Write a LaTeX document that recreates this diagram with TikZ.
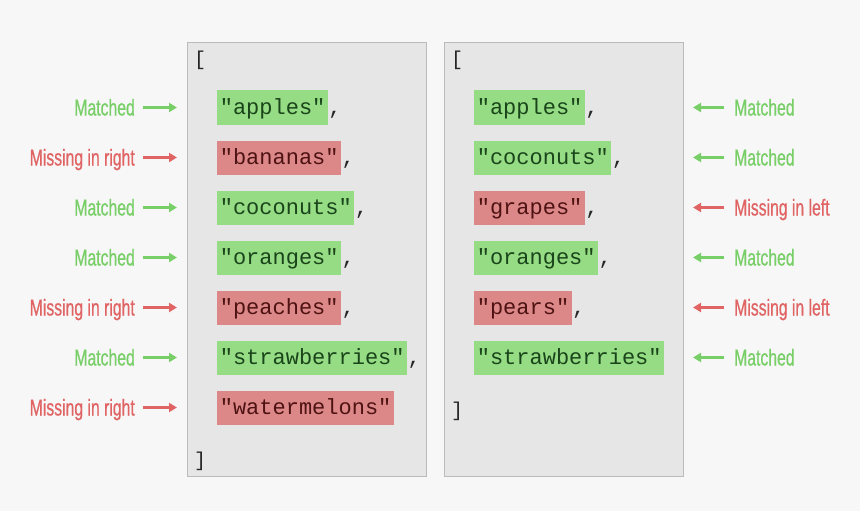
\documentclass[tikz,border=0pt]{standalone}
\usepackage{fontspec}
\setmainfont{Liberation Sans}
\newfontfamily\codefont{Liberation Mono}
\newfontfamily\labfont[FakeStretch=0.685,FakeBold=0.6]{Liberation Sans}
\usetikzlibrary{arrows.meta,calc}
\definecolor{bg}{HTML}{F7F7F7}
\definecolor{boxfill}{HTML}{E6E6E6}
\definecolor{boxline}{HTML}{BBBBBB}
\definecolor{gfill}{HTML}{95DC85}
\definecolor{rfill}{HTML}{DC8888}
\definecolor{gtext}{HTML}{1A441A}
\definecolor{rtext}{HTML}{4E1212}
\definecolor{glab}{HTML}{78CF68}
\definecolor{rlab}{HTML}{E06464}
\tikzset{
  codebox/.style={draw=boxline, fill=boxfill, line width=1pt, anchor=north west, inner sep=0},
  hlbase/.style={anchor=west, inner xsep=2.6pt, inner ysep=0pt, minimum height=34pt,
    font=\codefont\fontsize{22}{22}\selectfont, text height=17pt, text depth=4pt},
  hlg/.style={hlbase, fill=gfill, text=gtext},
  hlr/.style={hlbase, fill=rfill, text=rtext},
  commanode/.style={anchor=west, inner sep=0pt, font=\codefont\fontsize{22}{22}\selectfont,
    text height=17pt, text depth=4pt, text=black!85},
  bracketnode/.style={anchor=base west, inner sep=0pt, font=\codefont\fontsize{20}{20}\selectfont, text=black!85},
  labbase/.style={inner sep=0pt, font=\labfont\fontsize{23}{23}\selectfont},
  labg/.style={labbase, text=glab},
  labr/.style={labbase, text=rlab},
  arrbase/.style={line width=2.3pt, -{Triangle[length=8pt,width=9pt]}},
  arrg/.style={arrbase, draw=glab},
  arrr/.style={arrbase, draw=rlab},
}
\begin{document}
\begin{tikzpicture}[x=1pt,y=-1pt]
\fill[bg] (0,0) rectangle (860,511);
\useasboundingbox (0,0) rectangle (860,511);
\node[codebox, minimum width=239pt, minimum height=434pt] (lbox) at (187,42) {};
\node[codebox, minimum width=239pt, minimum height=434pt] (rbox) at (444,42) {};
\node[bracketnode] (lopen) at (194,66) {[};
\node[bracketnode] (lclose) at (194,466) {]};
\node[bracketnode] (ropen) at (451,66) {[};
\node[bracketnode] (rclose) at (451,416) {]};
% left column
\foreach \i/\w/\k/\lab in {1/apples/g/Matched, 2/bananas/r/Missing in right, 3/coconuts/g/Matched,
  4/oranges/g/Matched, 5/peaches/r/Missing in right, 6/strawberries/g/Matched, 7/watermelons/r/Missing in right}{
  \pgfmathsetmacro{\yy}{57.5+50*\i}
  \node[hl\k] (L\i) at (217,\yy) {"\w"};
  \node[lab\k, anchor=base east] (LL\i) at (135,\yy+8) {\lab};
  \draw[arr\k] ($(LL\i.east |- L\i.center)+(8,0)$) -- ($(lbox.west |- L\i.center)+(-10,0)$);
}
\foreach \i in {1,...,6}{\node[commanode] (Lc\i) at (L\i.east) {,};}
% right column
\foreach \i/\w/\k/\lab in {1/apples/g/Matched, 2/coconuts/g/Matched, 3/grapes/r/Missing in left,
  4/oranges/g/Matched, 5/pears/r/Missing in left, 6/strawberries/g/Matched}{
  \pgfmathsetmacro{\yy}{57.5+50*\i}
  \node[hl\k] (R\i) at (474,\yy) {"\w"};
  \node[lab\k, anchor=base west] (RL\i) at (734,\yy+8) {\lab};
  \draw[arr\k] ($(RL\i.west |- R\i.center)+(-10,0)$) -- ($(rbox.east |- R\i.center)+(9,0)$);
}
\foreach \i in {1,...,5}{\node[commanode] (Rc\i) at (R\i.east) {,};}
\end{tikzpicture}
\end{document}
